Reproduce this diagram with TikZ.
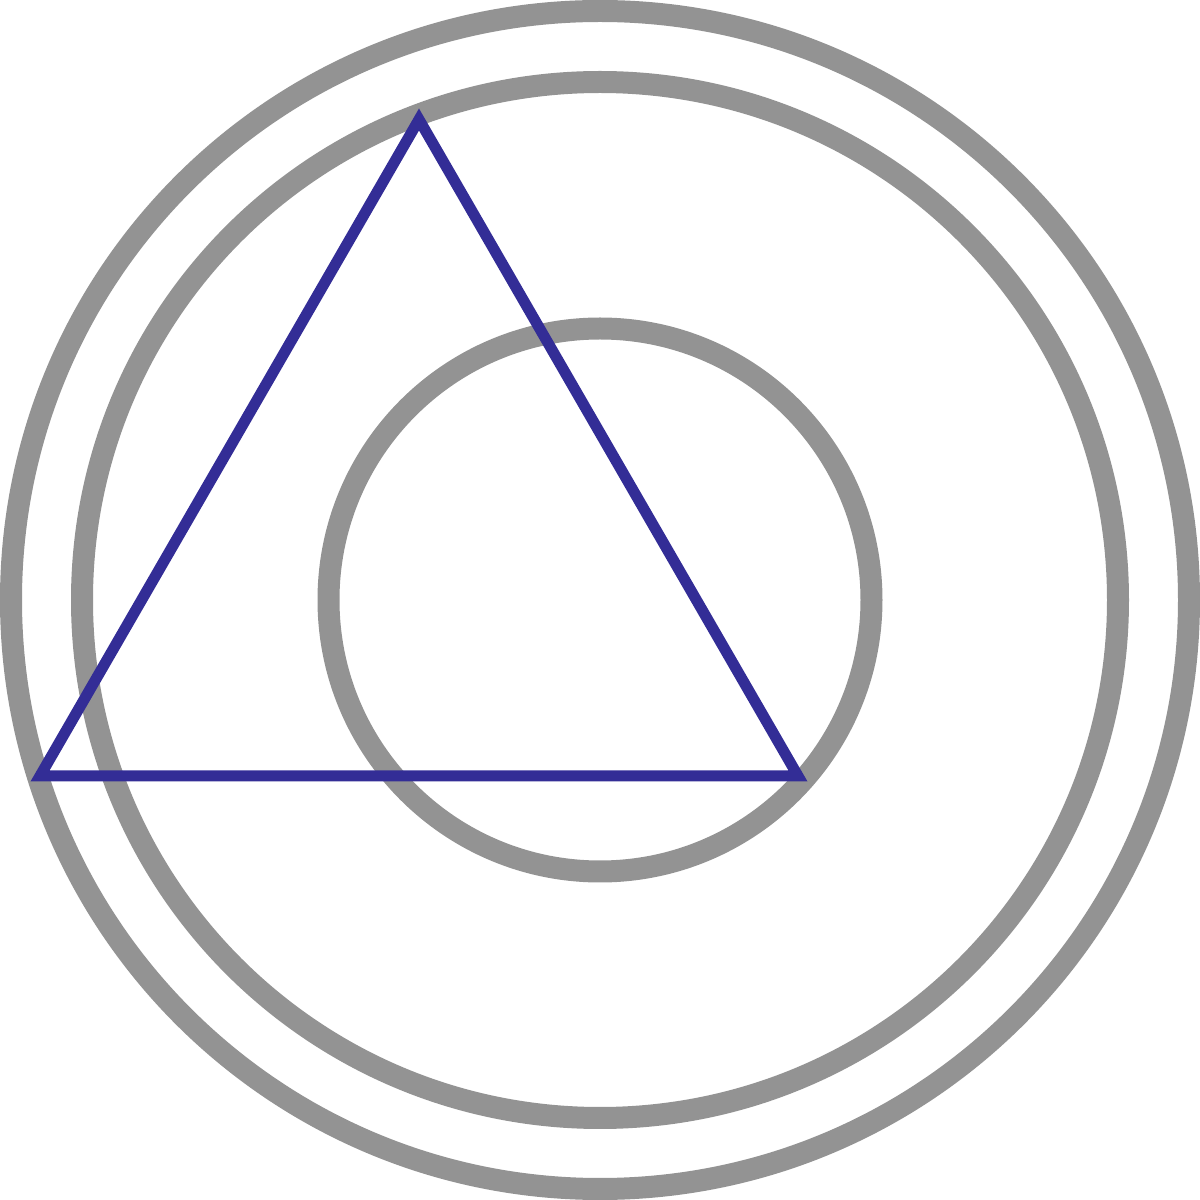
\documentclass[tikz,border=0pt]{standalone}
\usepackage{tikz}
\usetikzlibrary{calc}
\definecolor{Ring-gray}{RGB}{147,147,147}
\definecolor{Tri-blue}{RGB}{51,45,150}
\begin{document}
\begin{tikzpicture}
      \tikzset{ ring/.style ={draw=Ring-gray, line width=0.22cm} }
      \tikzset{ tri/.style  ={draw=Tri-blue, line width=0.11cm, line join=miter} }

      \useasboundingbox (0,0) rectangle (12,12);
      \coordinate (c) at (6,6);

      \draw[ring] (c) circle (5.89);
      \draw[ring] (c) circle (5.18);
      \draw[ring] (c) circle (2.715);

      \coordinate (v1) at (4.19,10.805);
      \coordinate (v2) at (0.40,4.24);
      \coordinate (v3) at (7.98,4.24);
      \draw[tri] (v1) -- (v2) -- (v3) -- cycle;
    \end{tikzpicture}
\end{document}
